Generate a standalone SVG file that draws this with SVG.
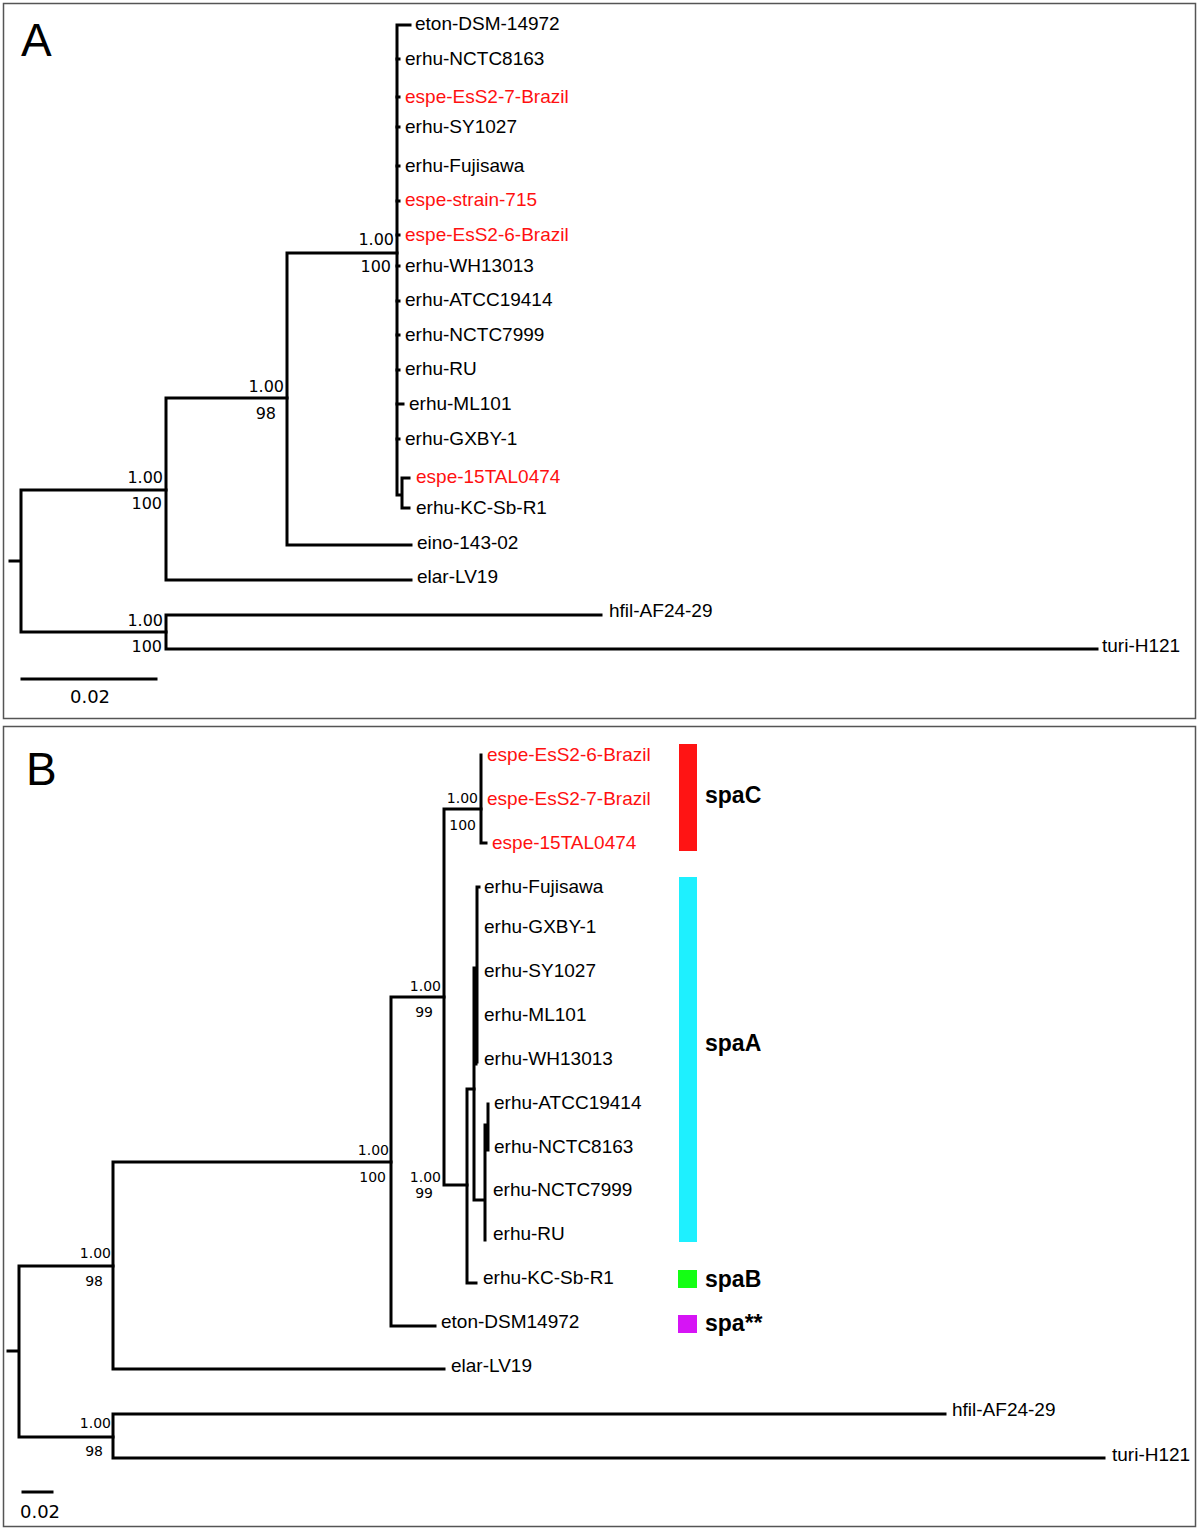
<svg xmlns="http://www.w3.org/2000/svg" width="1200" height="1534" viewBox="0 0 1200 1534">
<style>
.frame{fill:#fff;stroke:#555;stroke-width:1.5}
.br{fill:none;stroke:#000;stroke-width:3;stroke-linecap:square;stroke-linejoin:miter}
text{font-family:"DejaVu Sans","Liberation Sans",sans-serif;fill:#000}
.tip{font-family:"Liberation Sans",Arial,sans-serif;font-size:19px}
.red{fill:#ff1010}
.supA{font-size:16px;text-anchor:end}
.supB{font-size:14px;text-anchor:end}
.scale{font-size:18px;text-anchor:middle}
.panel{font-family:"Liberation Sans",Arial,sans-serif;font-size:46px}
.leg{font-family:"Liberation Sans",Arial,sans-serif;font-size:23px;font-weight:bold}
</style>
<rect class="frame" x="3.5" y="3.5" width="1192" height="715"/>
<rect class="frame" x="3.5" y="726.5" width="1192" height="800"/>
<g id="panelA">
<text class="panel" x="21" y="56">A</text>
<g id="connectorsA">
<path class="br" d="M10,561H21M21,490V632M21,490H166M21,632H166"/>
<path class="br" d="M166,398V580M166,580H411M166,398H287"/>
<path class="br" d="M166,615V649M166,615H601M166,649H1097"/>
<path class="br" d="M287,253V545M287,545H411M287,253H397"/>
<path class="br" d="M397,25V495M397,25H410M397,495H402M402,478V508M402,478H409M402,508H409"/>
<path class="br" d="M397,59H399M397,97H399M397,127H399M397,166H399M397,201H399M397,235H399M397,266H399M397,301H399M397,335H399M397,370H399M397,404H403M397,439H399"/>
<path class="br" d="M22,679H156"/>
</g>
<text class="scale" x="90" y="703">0.02</text>
<g id="supportA">
<text class="supA" x="163" y="483">1.00</text><text class="supA" x="162" y="509">100</text>
<text class="supA" x="163" y="626">1.00</text><text class="supA" x="162" y="652">100</text>
<text class="supA" x="284" y="392">1.00</text><text class="supA" x="276" y="419">98</text>
<text class="supA" x="394" y="245">1.00</text><text class="supA" x="391" y="272">100</text>
</g>
<g id="tipsA">
<text class="tip" x="415" y="30">eton-DSM-14972</text>
<text class="tip" x="405" y="65">erhu-NCTC8163</text>
<text class="tip red" x="405" y="103">espe-EsS2-7-Brazil</text>
<text class="tip" x="405" y="133">erhu-SY1027</text>
<text class="tip" x="405" y="172">erhu-Fujisawa</text>
<text class="tip red" x="405" y="206">espe-strain-715</text>
<text class="tip red" x="405" y="241">espe-EsS2-6-Brazil</text>
<text class="tip" x="405" y="272">erhu-WH13013</text>
<text class="tip" x="405" y="306">erhu-ATCC19414</text>
<text class="tip" x="405" y="341">erhu-NCTC7999</text>
<text class="tip" x="405" y="375">erhu-RU</text>
<text class="tip" x="409" y="410">erhu-ML101</text>
<text class="tip" x="405" y="445">erhu-GXBY-1</text>
<text class="tip red" x="416" y="483">espe-15TAL0474</text>
<text class="tip" x="416" y="514">erhu-KC-Sb-R1</text>
<text class="tip" x="417" y="549">eino-143-02</text>
<text class="tip" x="417" y="583">elar-LV19</text>
<text class="tip" x="609" y="617">hfil-AF24-29</text>
<text class="tip" x="1102" y="652">turi-H121</text>
</g>
</g>
<g id="panelB">
<text class="panel" x="26" y="785">B</text>
<g id="connectorsB">
<path class="br" d="M8,1351H19M19,1266V1437M19,1266H113M19,1437H113"/>
<path class="br" d="M113,1162V1369M113,1369H444M113,1162H391"/>
<path class="br" d="M113,1414V1458M113,1414H945M113,1458H1104"/>
<path class="br" d="M391,997V1326M391,1326H435M391,997H444"/>
<path class="br" d="M444,809V1185M444,809H481M444,1185H467"/>
<path class="br" d="M481,755V843M481,843H486"/>
<path class="br" d="M467,1089V1283M467,1283H476M467,1089H474"/>
<path class="br" d="M474,968V1200M474,1200H484M476,968V1064M477,887V1062M477,887H479"/>
<path class="br" d="M485,1125V1240M488,1104V1150M485,1150H488"/>
<path class="br" d="M23,1492H52"/>
</g>
<text class="scale" x="40" y="1518">0.02</text>
<g id="supportB">
<text class="supB" x="111" y="1258">1.00</text><text class="supB" x="103" y="1286">98</text>
<text class="supB" x="111" y="1428">1.00</text><text class="supB" x="103" y="1456">98</text>
<text class="supB" x="389" y="1155">1.00</text><text class="supB" x="386" y="1182">100</text>
<text class="supB" x="441" y="991">1.00</text><text class="supB" x="433" y="1017">99</text>
<text class="supB" x="441" y="1182">1.00</text><text class="supB" x="433" y="1198">99</text>
<text class="supB" x="478" y="803">1.00</text><text class="supB" x="476" y="830">100</text>
</g>
<g id="tipsB">
<text class="tip red" x="487" y="761">espe-EsS2-6-Brazil</text>
<text class="tip red" x="487" y="805">espe-EsS2-7-Brazil</text>
<text class="tip red" x="492" y="849">espe-15TAL0474</text>
<text class="tip" x="484" y="893">erhu-Fujisawa</text>
<text class="tip" x="484" y="933">erhu-GXBY-1</text>
<text class="tip" x="484" y="977">erhu-SY1027</text>
<text class="tip" x="484" y="1021">erhu-ML101</text>
<text class="tip" x="484" y="1065">erhu-WH13013</text>
<text class="tip" x="494" y="1109">erhu-ATCC19414</text>
<text class="tip" x="494" y="1153">erhu-NCTC8163</text>
<text class="tip" x="493" y="1196">erhu-NCTC7999</text>
<text class="tip" x="493" y="1240">erhu-RU</text>
<text class="tip" x="483" y="1284">erhu-KC-Sb-R1</text>
<text class="tip" x="441" y="1328">eton-DSM14972</text>
<text class="tip" x="451" y="1372">elar-LV19</text>
<text class="tip" x="952" y="1416">hfil-AF24-29</text>
<text class="tip" x="1112" y="1461">turi-H121</text>
</g>
<g id="legend">
<rect x="679" y="744" width="18" height="107" fill="#ff1414"/>
<text class="leg" x="705" y="803">spaC</text>
<rect x="679" y="877" width="18" height="365" fill="#1ef0ff"/>
<text class="leg" x="705" y="1051">spaA</text>
<rect x="678" y="1270" width="19" height="18" fill="#14ff14"/>
<text class="leg" x="705" y="1287">spaB</text>
<rect x="678" y="1315" width="19" height="18" fill="#d614f5"/>
<text class="leg" x="705" y="1331">spa**</text>
</g>
</g>
</svg>
